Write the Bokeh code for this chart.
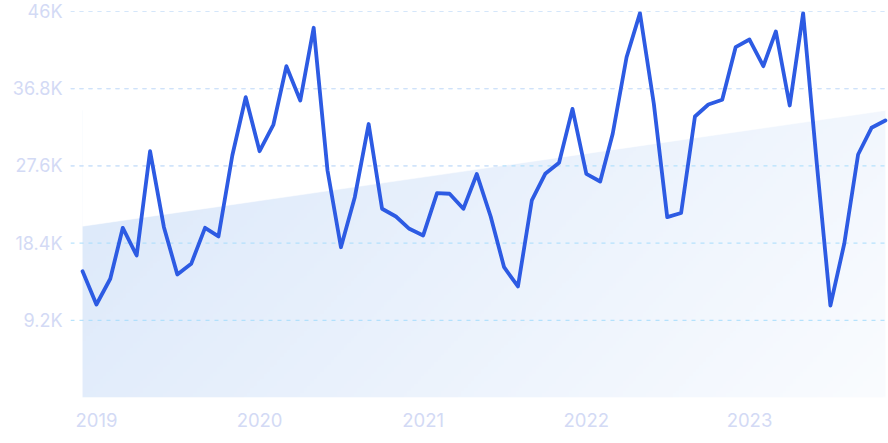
import numpy as np
import pandas as pd
from bokeh.plotting import figure
from bokeh.models import Range1d, FixedTicker, DatetimeTickFormatter
from bokeh.embed import file_html
from bokeh.resources import INLINE

# ---- data ----
first_month = "2018-12-01"
n_months = 60
values = [15050, 11080, 14150, 20220, 16920, 29350, 20300, 14660, 15930, 20220,
          19190, 28840, 35790, 29350, 32530, 39480, 35390, 44060, 27050, 17910,
          23870, 32590, 22490, 21570, 20100, 19310, 24350, 24280, 22490, 26630,
          21570, 15530, 13230, 23480, 26660, 27970, 34400, 26660, 25740, 31430,
          40550, 45800, 35000, 21490, 21990, 33490, 34920, 35480, 41750, 42660,
          39480, 43620, 34800, 45800, 27650, 10960, 18320, 28960, 32140, 33010]
trend = [20410, 34200]          # trend line value at first and last month
y_ticks = [9200, 18400, 27600, 36800, 46000]
y_labels = ["9.2K", "18.4K", "27.6K", "36.8K", "46K"]
x_tick_years = ["2019", "2020", "2021", "2022", "2023"]

# ---- derived ----
months = pd.date_range(first_month, periods=n_months, freq="MS")
xms = (months.astype("int64") // 10**6).astype(float).tolist()
day = 86400000.0
xs0 = xms[0] - 27 * day
xs1 = xms[-1] + 7 * day
x_ticks = [float(pd.Timestamp(y + "-01-01").value // 10**6) for y in x_tick_years]

LABEL = "#d3daf5"
LAV = "#d8e0f8"
CYAN = "#a6dcfc"
LINE = "#2d5be3"

p = figure(width=888, height=443, x_axis_type="datetime",
           x_range=Range1d(xs0, xs1), y_range=Range1d(0, 46000),
           output_backend="svg", toolbar_location=None,
           min_border_left=70, min_border_right=0, min_border_top=11, min_border_bottom=46)
p.outline_line_color = None
p.background_fill_color = "white"
p.border_fill_color = "white"
p.grid.visible = False

# gradient fill under the trend line
W, H = 240, 120
u = np.linspace(0, 1, W)[None, :]
d = 1 - np.linspace(0, 1, H)[:, None]
s = np.clip(0.75 * u + 0.25 * d, 0, 1)
c0 = np.array([219, 232, 250], dtype=float)
c1 = np.array([250, 252, 255], dtype=float)
img = np.empty((H, W), dtype=np.uint32)
view = img.view(dtype=np.uint8).reshape((H, W, 4))
for k in range(3):
    view[:, :, k] = (c0[k] + (c1[k] - c0[k]) * s).astype(np.uint8)
view[:, :, 3] = 255
tmax = max(trend)
p.image_rgba(image=[img], x=xms[0], y=0, dw=xms[-1] - xms[0], dh=tmax)
# white mask above trend
p.patch(x=[xms[0], xms[-1], xms[-1], xms[0]], y=[trend[0], trend[1], 46000 + 5000, 46000 + 5000],
        fill_color="white", line_color="white", line_width=0.5)

# grid lines: cyan inside fill, lavender above it
for lv in y_ticks:
    p.segment(x0=[xs0], y0=[lv], x1=[xs1], y1=[lv], line_color=CYAN, line_width=1, line_dash="4 5")
for lv in y_ticks:
    if lv <= trend[0]:
        continue
    if lv >= trend[1]:
        xc = xs1
    else:
        xc = xms[0] + (lv - trend[0]) / (trend[1] - trend[0]) * (xms[-1] - xms[0])
    p.segment(x0=[xs0], y0=[lv], x1=[xc], y1=[lv], line_color=LAV, line_width=1, line_dash="4 5")

p.line(xms, values, line_color=LINE, line_width=3.8, line_join="round", line_cap="round")

# axes
for ax in (p.xaxis, p.yaxis):
    ax.axis_line_color = None
    ax.major_tick_line_color = None
    ax.minor_tick_line_color = None
    ax.major_tick_out = 0
    ax.major_tick_in = 0
    ax.minor_tick_out = 0
    ax.major_label_text_color = LABEL
    ax.major_label_text_font = "Inter"
    ax.major_label_text_font_size = "18px"
p.yaxis.ticker = FixedTicker(ticks=y_ticks)
p.yaxis.major_label_overrides = {float(t): l for t, l in zip(y_ticks, y_labels)}
p.yaxis.major_label_standoff = 8
p.xaxis.ticker = FixedTicker(ticks=x_ticks)
p.xaxis.formatter = DatetimeTickFormatter(years="%Y", months="%Y", days="%Y", hours="%Y",
                                          minutes="%Y", seconds="%Y", milliseconds="%Y",
                                          microseconds="%Y", minsec="%Y", hourmin="%Y")
p.xaxis.major_label_standoff = 15
p.xaxis.major_label_text_font_size = "18.5px"

open("out.html", "w").write(file_html(p, INLINE))
